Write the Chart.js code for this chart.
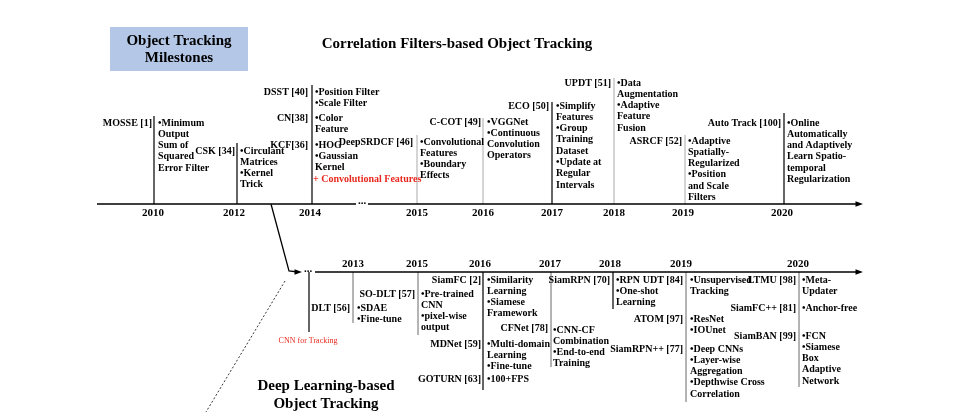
<!DOCTYPE html>
<html><head><meta charset="utf-8">
<script src="https://cdn.jsdelivr.net/npm/chart.js@4/dist/chart.umd.min.js"></script>
<style>html,body{margin:0;background:#fff}#wrap{width:956px;height:412px}</style>
</head><body><div id="wrap"><canvas id="c"></canvas></div>
<script>
// year ticks of both timelines (position along the page)
const topYears = ['2010','2012','2014','2015','2016','2017','2018','2019','2020'];
const topYearX = [153, 234, 310, 417, 483, 552, 614, 683, 782];
const topStemX = [154, 237, 312, 417, 483, 552, 614, 685, 784];
const topStemTop = [116, 143, 85, 135, 118, 102, 78, 135, 113];
const topStemDark = [1, 1, 1, 0, 0, 1, 0, 0, 1];
const botYears = ['2013','2015','2016','2017','2018','2019','2020'];
const botYearX = [353, 417, 480, 550, 610, 681, 798];
const botStemX = [309, 353, 418, 483, 551, 613, 686, 799];
const botStemEnd = [332, 323, 335, 390, 367, 309, 402, 387];
const botStemDark = [1, 0, 0, 1, 0, 1, 0, 0];

// milestones: [name, nameRightX, y, bulletX, bullets]
const topItems = [
  ['MOSSE [1]', 152, 123, 158, ['•Minimum','Output','Sum of','Squared','Error Filter']],
  ['CSK [34]', 235, 151, 240, ['•Circulant','Matrices','•Kernel','Trick']],
  ['DSST [40]', 308, 92, 315, ['•Position Filter','•Scale Filter']],
  ['CN[38]', 308, 118, 315, ['•Color','Feature']],
  ['KCF[36]', 308, 145, 315, ['•HOG','•Gaussian','Kernel']],
  ['DeepSRDCF [46]', 413, 142, 420, ['•Convolutional','Features','•Boundary','Effects']],
  ['C-COT [49]', 481, 122, 487, ['•VGGNet','•Continuous','Convolution','Operators']],
  ['ECO [50]', 549, 106, 556, ['•Simplify','Features','•Group','Training','Dataset','•Update at','Regular','Intervals']],
  ['UPDT [51]', 611, 83, 617, ['•Data','Augmentation','•Adaptive','Feature','Fusion']],
  ['ASRCF [52]', 682, 141, 688, ['•Adaptive','Spatially-','Regularized','•Position','and Scale','Filters']],
  ['Auto Track [100]', 781, 123, 787, ['•Online','Automatically','and Adaptively','Learn Spatio-','temporal','Regularization']]
];
const botItems = [
  ['DLT [56]', 350, 308, 357, ['•SDAE','•Fine-tune']],
  ['SO-DLT [57]', 415, 294, 421, ['•Pre-trained','CNN','•pixel-wise','output']],
  ['SiamFC [2]', 481, 280, 487, ['•Similarity','Learning','•Siamese','Framework']],
  ['CFNet [78]', 548, 328, 553, []],
  ['', 0, 330, 553, ['•CNN-CF','Combination','•End-to-end','Training']],
  ['MDNet [59]', 481, 344, 487, ['•Multi-domain','Learning','•Fine-tune']],
  ['GOTURN [63]', 481, 379, 487, ['•100+FPS']],
  ['SiamRPN [70]', 610, 280, 616, ['•RPN','•One-shot','Learning']],
  ['UDT [84]', 683, 280, 690, ['•Unsupervised','Tracking']],
  ['ATOM [97]', 683, 319, 690, ['•ResNet','•IOUnet']],
  ['SiamRPN++ [77]', 683, 349, 690, ['•Deep CNNs','•Layer-wise','Aggregation','•Depthwise Cross','Correlation']],
  ['LTMU [98]', 796, 280, 802, ['•Meta-','Updater']],
  ['SiamFC++ [81]', 796, 308, 802, ['•Anchor-free']],
  ['SiamBAN [99]', 796, 336, 802, ['•FCN','•Siamese','Box','Adaptive','Network']]
];

const TOP_Y = 204, BOT_Y = 272, LINE_H = 11.3;
const stemsDark = [], stemsGray = [];
topStemX.forEach((x, i) => (topStemDark[i] ? stemsDark : stemsGray).push({x, y: TOP_Y}, {x, y: topStemTop[i]}, {x, y: null}));
botStemX.forEach((x, i) => (botStemDark[i] ? stemsDark : stemsGray).push({x, y: BOT_Y}, {x, y: botStemEnd[i]}, {x, y: null}));

const lineDs = (data, extra) => Object.assign({data, showLine: true, pointRadius: 0, borderColor: '#000', borderWidth: 1.3, spanGaps: false}, extra || {});

const SERIF = '"Liberation Serif", "DejaVu Serif", serif';
const textPlugin = {
  id: 'texts',
  afterDatasetsDraw(chart) {
    const {ctx, scales: {x, y}} = chart;
    const px = v => x.getPixelForValue(v), py = v => y.getPixelForValue(v);
    ctx.save();
    ctx.fillStyle = '#000';
    ctx.textBaseline = 'middle';
    const arrow = (ax, ay, ang) => {
      ctx.beginPath();
      ctx.moveTo(px(ax), py(ay));
      ctx.lineTo(px(ax) - 8 * Math.cos(ang - 0.35), py(ay) - 8 * Math.sin(ang - 0.35));
      ctx.lineTo(px(ax) - 8 * Math.cos(ang + 0.35), py(ay) - 8 * Math.sin(ang + 0.35));
      ctx.closePath(); ctx.fill();
    };
    arrow(863, TOP_Y, 0); arrow(863, BOT_Y, 0); arrow(302, BOT_Y, 0);
    ctx.fillStyle = '#b4c7e7';
    ctx.fillRect(px(110), py(27), px(248) - px(110), py(71) - py(27));
    ctx.fillStyle = '#000';
    ctx.textAlign = 'center';
    ctx.font = 'bold 15px ' + SERIF;
    ctx.fillText('Object Tracking', px(179), py(41));
    ctx.fillText('Milestones', px(179), py(58));
    ctx.fillText('Correlation Filters-based Object Tracking', px(457), py(44));
    ctx.fillText('Deep Learning-based', px(326), py(386));
    ctx.fillText('Object Tracking', px(326), py(404));
    ctx.font = 'bold 11px ' + SERIF;
    topYears.forEach((t, i) => ctx.fillText(t, px(topYearX[i]), py(TOP_Y + 9)));
    botYears.forEach((t, i) => ctx.fillText(t, px(botYearX[i]), py(BOT_Y - 8)));
    ctx.fillText('...', px(362), py(TOP_Y - 3));
    ctx.fillText('...', px(308), py(BOT_Y - 3));
    [...topItems, ...botItems].forEach(([name, nx, ny, bx, bullets]) => {
      ctx.font = 'bold 10px ' + SERIF;
      if (name) { ctx.textAlign = 'right'; ctx.fillText(name, px(nx), py(ny)); }
      ctx.textAlign = 'left';
      bullets.forEach((b, k) => ctx.fillText(b, px(bx), py(ny + k * LINE_H)));
    });
    ctx.fillStyle = '#e8281e';
    ctx.font = 'bold 10px ' + SERIF; ctx.textAlign = 'left';
    ctx.fillText('+ Convolutional Features', px(313), py(179));
    ctx.font = '8px ' + SERIF; ctx.textAlign = 'center';
    ctx.fillText('CNN for Tracking', px(308), py(341));
    ctx.restore();
  }
};

new Chart(document.getElementById('c'), {
  type: 'scatter',
  data: {datasets: [
    lineDs([{x: 97, y: TOP_Y}, {x: 356, y: TOP_Y}, {x: null, y: null}, {x: 368, y: TOP_Y}, {x: 860, y: TOP_Y}]),
    lineDs([{x: 315, y: BOT_Y}, {x: 860, y: BOT_Y}]),
    lineDs([{x: 271, y: TOP_Y}, {x: 289, y: BOT_Y - 1}, {x: 298, y: BOT_Y}]),
    lineDs([{x: 285, y: 281}, {x: 206, y: 412}], {borderDash: [2, 2], borderWidth: 0.8}),
    lineDs(stemsDark, {borderWidth: 1.2}),
    lineDs(stemsGray, {borderWidth: 1, borderColor: '#aaa'})
  ]},
  options: {
    responsive: true, maintainAspectRatio: false, animation: false,
    layout: {padding: 0},
    plugins: {legend: {display: false}, tooltip: {enabled: false}},
    scales: {
      x: {type: 'linear', min: 0, max: 956, display: false},
      y: {type: 'linear', min: 0, max: 412, reverse: true, display: false}
    }
  },
  plugins: [textPlugin]
});
</script></body></html>
